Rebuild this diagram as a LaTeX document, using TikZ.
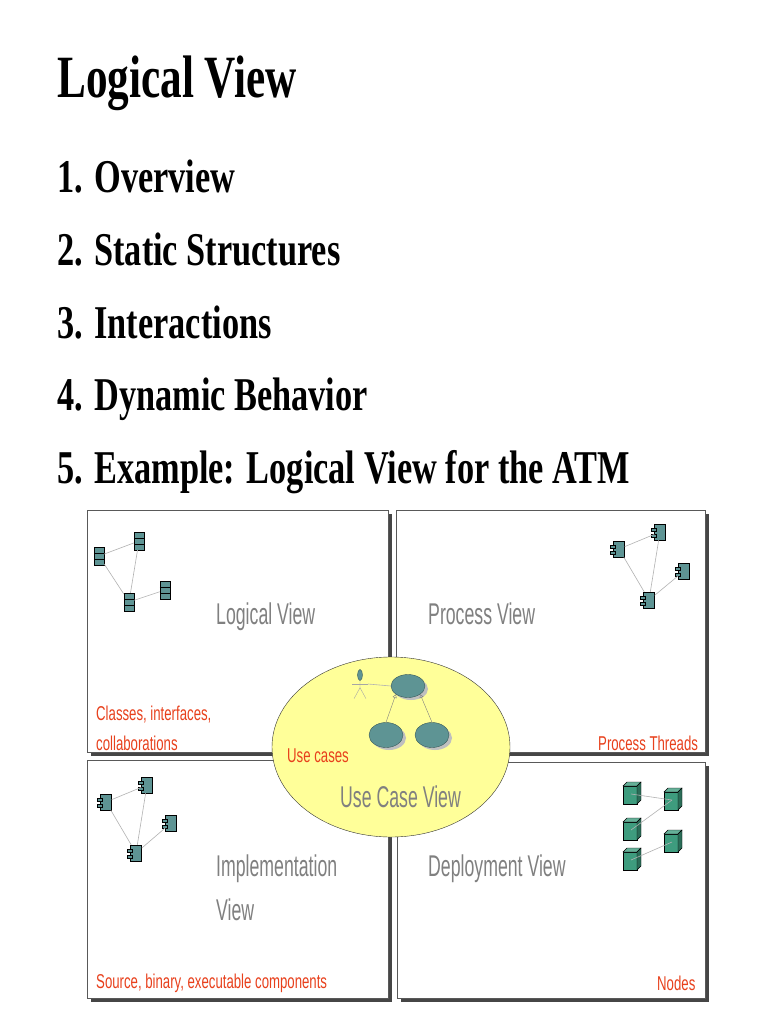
\documentclass[tikz,border=0pt]{standalone}
\usepackage{fontspec}
\setmainfont{Liberation Serif}
\newfontfamily\arialf{Liberation Sans}
\usetikzlibrary{shapes.geometric,arrows.meta}
\definecolor{teal1}{HTML}{5E9494}
\definecolor{teal2}{HTML}{3E9C7E}
\definecolor{redt}{HTML}{E8401C}
\definecolor{grayt}{HTML}{808080}
\definecolor{yel}{HTML}{FFFF99}
\begin{document}
\begin{tikzpicture}[x=1pt,y=-1pt,
  titlef/.style={anchor=base west,inner sep=0,font=\fontsize{60}{60}\selectfont\bfseries},
  itemf/.style={anchor=base west,inner sep=0,font=\fontsize{47}{47}\selectfont\bfseries},
  panel/.style={draw=gray!70!black,line width=1pt,fill=white},
  shadow/.style={fill=gray!55!black},
  viewl/.style={anchor=base west,inner sep=0,text=grayt,font=\arialf\fontsize{30}{36}\selectfont},
  redl/.style={anchor=base west,inner sep=0,text=redt,font=\arialf\fontsize{20}{24}\selectfont},
  cls/.style={draw=black,fill=teal1,minimum width=10pt,minimum height=18pt,inner sep=0},
  lnk/.style={draw=gray!60,line width=0.6pt},
  uc/.style={ellipse,draw=teal1!60!black,fill=teal1,minimum width=34pt,minimum height=23pt,inner sep=0}]
\useasboundingbox (0,0) rectangle (768,1024);
\fill[white] (0,0) rectangle (768,1024);
\node[titlef] (t) at (57,98) {\scalebox{0.72}[1]{Logical View}};
\node[itemf] (i1) at (57,193) {\scalebox{0.73}[1]{1. Overview}};
\node[itemf] (i2) at (57,265) {\scalebox{0.73}[1]{2. Static Structures}};
\node[itemf] (i3) at (57,338) {\scalebox{0.73}[1]{3. Interactions}};
\node[itemf] (i4) at (57,410) {\scalebox{0.73}[1]{4. Dynamic Behavior}};
\node[itemf] (i5) at (57,483) {\scalebox{0.73}[1]{5. Example: Logical View for the ATM}};
% panels with shadows
\fill[shadow] (91,514) rectangle (392,756);
\draw[panel] (87,510) rectangle (388,752);
\fill[shadow] (400,514) rectangle (709,756);
\draw[panel] (396,510) rectangle (705,752);
\fill[shadow] (91,764) rectangle (392,1002);
\draw[panel] (87,760) rectangle (388,998);
\fill[shadow] (401,766) rectangle (709,1002);
\draw[panel] (397,762) rectangle (705,998);
% logical view icons
\node[cls] (c1) at (99,556) {};
\node[cls] (c2) at (139,541) {};
\node[cls] (c3) at (129,602) {};
\node[cls] (c4) at (165,590) {};
\foreach \n in {c1,c2,c3,c4}{\draw (\n.west|-\n) ++(0,-3) -- ++(10,0) ++(-10,6) -- ++(10,0);}
\draw[lnk] (c1) -- (c2); \draw[lnk] (c1) -- (c3); \draw[lnk] (c2) -- (c3); \draw[lnk] (c3) -- (c4);
\node[viewl] (lv) at (216,624) {\scalebox{0.59}[1]{Logical View}};
\node[redl] (lr) at (96,720) {\scalebox{0.66}[1]{Classes, interfaces,}};
\node[redl] (lr2) at (96,750) {\scalebox{0.66}[1]{collaborations}};
% process view icons
\node[cls,minimum width=11pt,minimum height=16pt] (p1) at (619,549) {};
\node[cls,minimum width=11pt,minimum height=16pt] (p2) at (660,532) {};
\node[cls,minimum width=11pt,minimum height=16pt] (p3) at (684,571) {};
\node[cls,minimum width=11pt,minimum height=16pt] (p4) at (649,600) {};
\foreach \n in {p1,p2,p3,p4}{\fill[teal1,draw=black] (\n.west)++(-3,-4) rectangle ++(5,3); \fill[teal1,draw=black] (\n.west)++(-3,2) rectangle ++(5,3);}
\draw[lnk] (p1) -- (p2); \draw[lnk] (p1) -- (p4); \draw[lnk] (p2) -- (p4); \draw[lnk] (p3) -- (p4);
\node[viewl] (pv) at (428,624) {\scalebox{0.59}[1]{Process View}};
\node[redl] (pr) at (598,750) {\scalebox{0.66}[1]{Process Threads}};
% implementation view icons
\node[cls,minimum width=11pt,minimum height=16pt] (m1) at (106,802) {};
\node[cls,minimum width=11pt,minimum height=16pt] (m2) at (147,785) {};
\node[cls,minimum width=11pt,minimum height=16pt] (m3) at (171,823) {};
\node[cls,minimum width=11pt,minimum height=16pt] (m4) at (136,853) {};
\foreach \n in {m1,m2,m3,m4}{\fill[teal1,draw=black] (\n.west)++(-3,-4) rectangle ++(5,3); \fill[teal1,draw=black] (\n.west)++(-3,2) rectangle ++(5,3);}
\draw[lnk] (m1) -- (m2); \draw[lnk] (m1) -- (m4); \draw[lnk] (m2) -- (m4); \draw[lnk] (m3) -- (m4);
\node[viewl] (iv) at (216,876) {\scalebox{0.59}[1]{Implementation}};
\node[viewl] (iv2) at (216,920) {\scalebox{0.59}[1]{View}};
\node[redl] (ir) at (96,988) {\scalebox{0.66}[1]{Source, binary, executable components}};
% deployment view icons
\foreach \nm/\x/\y in {d1/631/794, d2/672/800, d3/631/830, d4/672/842, d5/631/860}{
  \fill[teal2,draw=black] (\x-8,\y-8) rectangle (\x+6,\y+10);
  \fill[teal2!80!white,draw=black] (\x-8,\y-8) -- (\x-4,\y-12) -- (\x+10,\y-12) -- (\x+6,\y-8) -- cycle;
  \fill[teal2!70!black,draw=black] (\x+6,\y-8) -- (\x+10,\y-12) -- (\x+10,\y+6) -- (\x+6,\y+10) -- cycle;
  \coordinate (\nm) at (\x,\y);}
\draw[lnk] (d1) -- (d2); \draw[lnk] (d3) -- (d2); \draw[lnk] (d5) -- (d4);
\node[viewl] (dv) at (428,876) {\scalebox{0.59}[1]{Deployment View}};
\node[redl] (dr) at (657,990) {\scalebox{0.66}[1]{Nodes}};
% use case ellipse
\node[ellipse,draw=gray!40!black,fill=yel,minimum width=238pt,minimum height=180pt,inner sep=0] (ucv) at (391,747) {};
\node[viewl] (ucl) at (340,807) {\scalebox{0.59}[1]{Use Case View}};
\node[redl] (ucr) at (287,762) {\scalebox{0.66}[1]{Use cases}};
\fill[gray!50] (411,689) ellipse (17pt and 11pt);
\fill[gray!50] (389,738) ellipse (17pt and 12pt);
\fill[gray!50] (435,738) ellipse (17pt and 12pt);
\node[uc] (u1) at (408,686) {};
\node[uc,minimum height=25pt] (u2) at (386,735) {};
\node[uc,minimum height=25pt] (u3) at (432,735) {};
\node[ellipse,fill=teal1,draw=teal1!60!black,minimum width=5pt,minimum height=11pt,inner sep=0] (act) at (360,675) {};
\draw[gray!70] (act.south) -- ++(0,7) coordinate (hip) -- ++(-6,11);
\draw[gray!70] (hip) -- ++(6,11); \draw[gray!70] (352,684) -- (368,684);
\draw[lnk] (368,684) -- (u1.west);
\draw[gray,-{Triangle[open]}] (u2.north) -- (u1.south west);
\draw[gray,-{Triangle[open]}] (u3.north) -- (u1.south east);
\end{tikzpicture}
\end{document}
